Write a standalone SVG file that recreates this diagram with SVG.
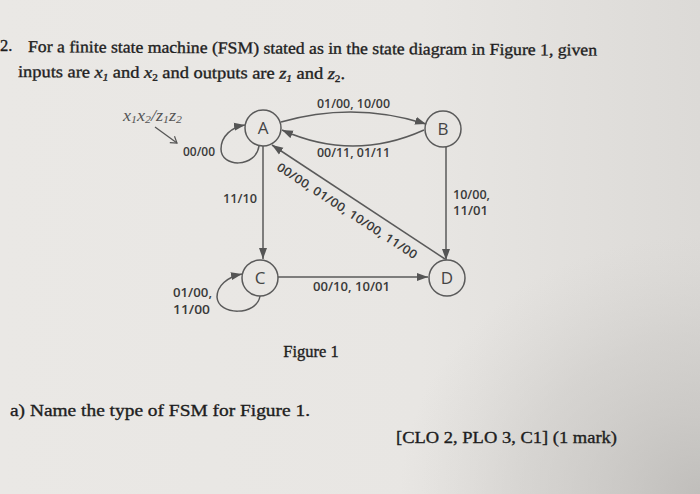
<svg xmlns="http://www.w3.org/2000/svg" width="700" height="494" viewBox="0 0 700 494">
<defs>
<linearGradient id="paper" x1="0" y1="0" x2="1" y2="0">
<stop offset="0" stop-color="#eae8e5"/>
<stop offset="0.6" stop-color="#e8e6e3"/>
<stop offset="1" stop-color="#dcdad7"/>
</linearGradient>
<radialGradient id="shade" cx="1" cy="1" r="0.75">
<stop offset="0" stop-color="#b9b7b4" stop-opacity="0.8"/>
<stop offset="0.6" stop-color="#c8c6c3" stop-opacity="0.45"/>
<stop offset="1" stop-color="#d0cecb" stop-opacity="0"/>
</radialGradient>
<marker id="ah" markerWidth="12" markerHeight="9" refX="11" refY="4.5" orient="auto" markerUnits="userSpaceOnUse">
<path d="M0,0.5 L11,4.5 L0,8.5 Z" fill="#555"/>
</marker>
<marker id="chev" markerWidth="10" markerHeight="10" refX="7" refY="5" orient="auto" markerUnits="userSpaceOnUse">
<path d="M1,1 L7,5 L1,9" fill="none" stroke="#555" stroke-width="1.2"/>
</marker>
<style>
.st{fill:none;stroke:#5a5a5a;stroke-width:1.5}
.nl{font-family:"Open Sans","Liberation Sans",sans-serif;font-size:17px;fill:#444;text-anchor:middle}
.lb{font-family:"Open Sans","Liberation Sans",sans-serif;font-size:12px;fill:#3a3a3a;font-weight:600}
.ed{fill:none;stroke:#5a5a5a;stroke-width:1.5}
.tx{font-family:"Liberation Serif","Times New Roman",serif;font-size:16.5px;fill:#1e1e1e;stroke:#1e1e1e;stroke-width:0.35}
</style>
</defs>
<rect width="700" height="494" fill="url(#paper)"/>
<rect x="300" y="150" width="400" height="344" fill="url(#shade)"/>

<g id="heading">
<text class="tx" x="0" y="51">2.</text>
<text class="tx" x="28" y="52" textLength="569" lengthAdjust="spacingAndGlyphs" transform="rotate(0.35 28 52)">For a finite state machine (FSM) stated as in the state diagram in Figure 1, given</text>
<text class="tx" x="18" y="77" textLength="327" lengthAdjust="spacingAndGlyphs" transform="rotate(0.35 18 77)">inputs are <tspan font-style="italic">x</tspan><tspan font-size="10" dy="3" font-style="italic">1</tspan><tspan dy="-3"> and </tspan><tspan font-style="italic">x</tspan><tspan font-size="10" dy="3">2</tspan><tspan dy="-3"> and outputs are </tspan><tspan font-style="italic">z</tspan><tspan font-size="10" dy="3" font-style="italic">1</tspan><tspan dy="-3"> and </tspan><tspan font-style="italic">z</tspan><tspan font-size="10" dy="3">2</tspan><tspan dy="-3">.</tspan></text>
</g>

<g id="legend">
<text x="123" y="121" font-family="Liberation Serif,serif" font-style="italic" font-size="17" fill="#555" textLength="59" lengthAdjust="spacingAndGlyphs">x<tspan font-size="11" dy="2">1</tspan><tspan dy="-2">x</tspan><tspan font-size="11" dy="2">2</tspan><tspan dy="-2">/z</tspan><tspan font-size="11" dy="2">1</tspan><tspan dy="-2">z</tspan><tspan font-size="11" dy="2">2</tspan></text>
<line x1="155" y1="127" x2="177" y2="143" stroke="#555" stroke-width="1.3" marker-end="url(#chev)"/>
</g>

<g id="connectors">
<path class="ed" d="M281,122 Q354,101 426,124" marker-end="url(#ah)"/>
<path class="ed" d="M424,130 Q353,162 282,130" marker-end="url(#ah)"/>
<path class="ed" d="M259,146 C256,168 221,168 221,149 C221,136 232,127 245,125" marker-end="url(#ah)"/>
<path class="ed" d="M263,146 L263,259" marker-end="url(#ah)"/>
<path class="ed" d="M446,147 L446,260" marker-end="url(#ah)"/>
<path class="ed" d="M445,259 L272,145" marker-end="url(#ah)"/>
<path class="ed" d="M278,277 L428,277" marker-end="url(#ah)"/>
<path class="ed" d="M260,296 C257,316 218,316 217,297 C217,286 227,277 242,274" marker-end="url(#ah)"/>
</g>

<g id="edge-labels">
<text class="lb" x="317" y="108" textLength="73" lengthAdjust="spacingAndGlyphs">01/00, 10/00</text>
<text class="lb" x="317" y="157" textLength="73" lengthAdjust="spacingAndGlyphs">00/11, 01/11</text>
<text class="lb" x="183" y="156" textLength="32" lengthAdjust="spacingAndGlyphs">00/00</text>
<text class="lb" x="223" y="203" textLength="34" lengthAdjust="spacingAndGlyphs">11/10</text>
<text class="lb" x="453" y="199" textLength="37" lengthAdjust="spacingAndGlyphs">10/00,</text>
<text class="lb" x="453" y="215" textLength="35" lengthAdjust="spacingAndGlyphs">11/01</text>
<text class="lb" x="313" y="291" textLength="77" lengthAdjust="spacingAndGlyphs">00/10, 10/01</text>
<text class="lb" x="173" y="297" textLength="39" lengthAdjust="spacingAndGlyphs">01/00,</text>
<text class="lb" x="173" y="314" textLength="37" lengthAdjust="spacingAndGlyphs">11/00</text>
<text class="lb" x="347" y="215" text-anchor="middle" textLength="165" lengthAdjust="spacingAndGlyphs" transform="rotate(33.2 347 211)">00/00, 01/00, 10/00, 11/00</text>
</g>

<g id="node-A"><circle class="st" cx="263" cy="128" r="18"/><text class="nl" x="263" y="134">A</text></g>
<g id="node-B"><circle class="st" cx="443" cy="129" r="18"/><text class="nl" x="443" y="135">B</text></g>
<g id="node-C"><circle class="st" cx="260" cy="278" r="18"/><text class="nl" x="260" y="284">C</text></g>
<g id="node-D"><circle class="st" cx="447" cy="278" r="18"/><text class="nl" x="447" y="284">D</text></g>

<g id="footer">
<text class="tx" x="311" y="357" text-anchor="middle">Figure 1</text>
<text class="tx" x="10" y="416" textLength="300" lengthAdjust="spacingAndGlyphs">a) Name the type of FSM for Figure 1.</text>
<text class="tx" x="396" y="443" textLength="221" lengthAdjust="spacingAndGlyphs">[CLO 2, PLO 3, C1] (1 mark)</text>
</g>
</svg>
